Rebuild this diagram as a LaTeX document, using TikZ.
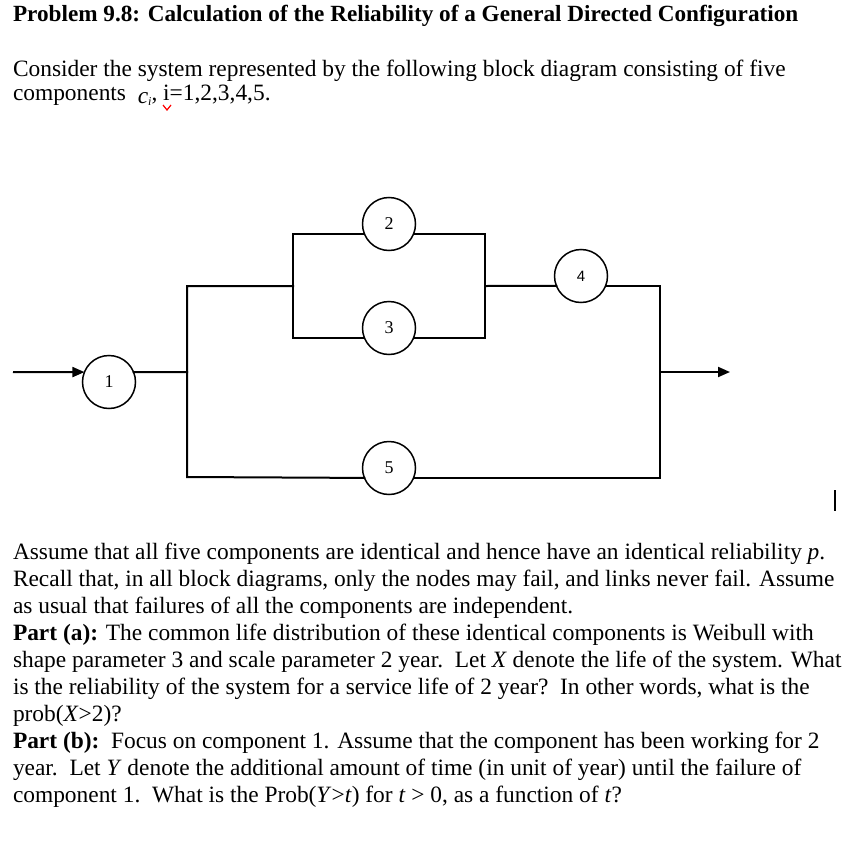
\documentclass[tikz,border=0pt]{standalone}
\usepackage{fontspec}
\setmainfont[Ligatures={TeX,NoCommon}]{Liberation Serif}
\newfontfamily\arialfont{Liberation Sans}
\usetikzlibrary{arrows.meta}
\begin{document}
\begin{tikzpicture}[x=1pt,y=-1pt,
  txt/.style={anchor=base west,inner sep=0pt,outer sep=0pt,font=\fontsize{23.4}{27}\selectfont},
  comp/.style={circle,draw,line width=1.5pt,minimum size=53pt,inner sep=0pt,outer sep=0pt,font=\fontsize{18}{18}\selectfont},
  wire/.style={line width=2pt,line cap=rect},
  arr/.style={line width=2pt,-{Triangle[length=12pt,width=10pt]}}]
\useasboundingbox (0,0) rectangle (854,856);
% texts
\node[txt,font=\fontsize{23.2}{27}\selectfont\bfseries] (title) at (13,22) {Problem 9.8: Calculation of the Reliability of a General Directed Configuration};
\node[txt] (l1) at (13,77) {Consider the system represented by the following block diagram consisting of five};
\node[txt] (l2) at (13,101) {components \ \raisebox{-2pt}{\textit{c}}\raisebox{-5pt}{\fontsize{12}{12}\selectfont\textit{i}}, i=1,2,3,4,5.};
\draw[red,line width=1.2pt] (163,105) -- (167,110) -- (171,105);
\node[txt] (p1) at (13,559) {Assume that all five components are identical and hence have an identical reliability \textit{p}.};
\node[txt] (p2) at (13,586) {Recall that, in all block diagrams, only the nodes may fail, and links never fail. Assume};
\node[txt] (p3) at (13,613) {as usual that failures of all the components are independent.};
\node[txt] (p4) at (13,640) {\textbf{Part (a):} The common life distribution of these identical components is Weibull with};
\node[txt] (p5) at (13,667) {shape parameter 3 and scale parameter 2 year.\ \ Let \textit{X} denote the life of the system. What};
\node[txt] (p6) at (13,694) {is the reliability of the system for a service life of 2 year?\ \ In other words, what is the};
\node[txt] (p7) at (13,721) {prob(\textit{X}>2)?};
\node[txt] (p8) at (13,748) {\textbf{Part (b):}\ \ Focus on component 1. Assume that the component has been working for 2};
\node[txt] (p9) at (13,775) {year.\ \ Let \textit{Y} denote the additional amount of time (in unit of year) until the failure of};
\node[txt] (p10) at (13,802) {component 1.\ \ What is the Prob(\textit{Y}>\textit{t}) for \textit{t} > 0, as a function of \textit{t}?};
% cursor
\coordinate (cur1) at (835,490);
\coordinate (cur2) at (835,511);
\draw[line width=1.3pt] (cur1) -- (cur2);
% components
\node[comp] (c1) at (109,382) {1};
\node[comp] (c2) at (389,224) {2};
\node[comp] (c3) at (389,328) {3};
\node[comp,font=\arialfont\fontsize{15}{15}\selectfont] (c4) at (581,276) {4};
\node[comp] (c5) at (389,468) {5};
% junction coordinates
\coordinate (in) at (13,372);
\coordinate (A) at (187,372);
\coordinate (P1) at (187,286);
\coordinate (P2) at (187,477);
\coordinate (B) at (293,286);
\coordinate (C) at (485,286);
\coordinate (D) at (660,372);
\coordinate (out) at (730,372);
% connectors
\draw[arr] (in) -- (c1.158);
\draw[wire] (c1.22) -- (A);
\draw[wire] (c5.202) -- (P2) -- (P1) -- (B);
\draw[wire] (c2.202) -| (B) |- (c3.202);
\draw[wire] (c2.-22) -| (C) |- (c3.-22);
\draw[wire] (C) -- (c4.202);
\draw[wire] (c4.-22) -| (D) |- (c5.-22);
\draw[arr] (D) -- (out);
\end{tikzpicture}
\end{document}
